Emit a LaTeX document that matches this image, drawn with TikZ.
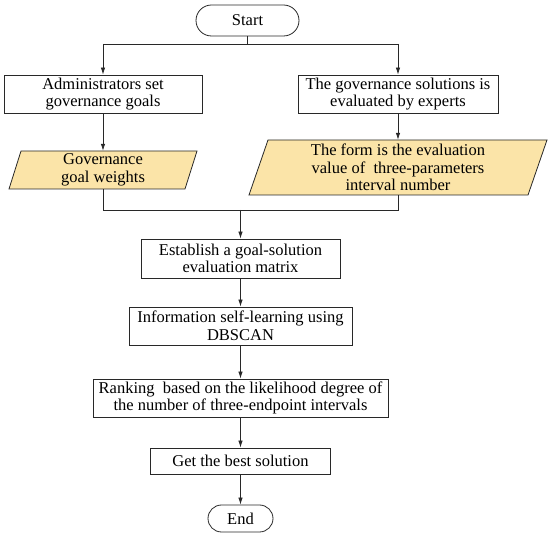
\documentclass[tikz,border=0pt]{standalone}
\usepackage{fontspec}
\setmainfont{Liberation Serif}
\usetikzlibrary{arrows.meta}
\definecolor{paraY}{RGB}{251,228,168}
\definecolor{linec}{RGB}{40,40,40}
\begin{document}
\begin{tikzpicture}[x=1pt,y=1pt,
  every node/.style={font=\fontsize{16.5}{17.5}\selectfont, text=black},
  box/.style={draw=linec, line width=0.8pt, fill=white, inner sep=0pt, align=center},
  term/.style={box},
  txt/.style={inner sep=0pt, align=center},
  paraf/.style={draw=linec, line width=0.8pt, fill=paraY},
  conn/.style={draw=linec, line width=0.8pt},
  arr/.style={conn, -{Latex[length=7pt,width=4.5pt]}}]
\useasboundingbox (0,0) rectangle (550,-537);

% nodes
\node[term, rounded corners=15.5pt, minimum width=103pt, minimum height=31pt] (st) at (247.5,-20.5) {Start};
\node[box, minimum width=198pt, minimum height=38pt] (adm) at (103,-94) {Administrators set\\governance goals};
\node[box, minimum width=200pt, minimum height=38pt] (ev) at (398,-94) {The governance solutions is\\evaluated by experts};

\draw[paraf] (21,-151) -- (197,-151) -- (185,-189) -- (9,-189) -- cycle;
\node[txt, minimum height=38pt] (gw) at (103,-170) {Governance\\goal weights};
\draw[paraf] (268,-140) -- (547,-140) -- (528,-195) -- (249,-195) -- cycle;
\node[txt, minimum height=55pt] (fm) at (398,-167.5) {The form is the evaluation\\value of~ three-parameters\\interval number};

\node[box, minimum width=199pt, minimum height=39pt] (est) at (240.5,-258.5) {Establish a goal-solution\\evaluation matrix};
\node[box, minimum width=223pt, minimum height=38pt] (inf) at (240.5,-326) {Information self-learning using\\DBSCAN};
\node[box, minimum width=295pt, minimum height=38pt] (rk) at (240.5,-398) {Ranking~ based on the likelihood degree of\\the number of three-endpoint intervals};
\node[box, minimum width=180pt, minimum height=26pt] (gb) at (240.5,-461) {Get the best solution};
\node[term, rounded corners=13.5pt, minimum width=65pt, minimum height=27pt] (en) at (240.5,-518.5) {End};

% junction coordinates
\coordinate (h1) at (103,-44);
\coordinate (h2) at (398,-44);
\coordinate (j1) at (103,-210);
\coordinate (j2) at (398,-210);
\coordinate (jm) at (240.5,-210);

% connectors
\draw[conn] (st.south) -- (st.south |- h1);
\draw[conn] (h1) -- (h2);
\draw[arr] (h1) -- (adm.north);
\draw[arr] (h2) -- (ev.north);
\draw[arr] (adm.south) -- (gw.north);
\draw[arr] (ev.south) -- (fm.north);
\draw[conn] (gw.south) -- (j1) -- (j2) -- (fm.south);
\draw[arr] (jm) -- (est.north);
\draw[arr] (est.south) -- (inf.north);
\draw[arr] (inf.south) -- (rk.north);
\draw[arr] (rk.south) -- (gb.north);
\draw[arr] (gb.south) -- (en.north);
\end{tikzpicture}
\end{document}
